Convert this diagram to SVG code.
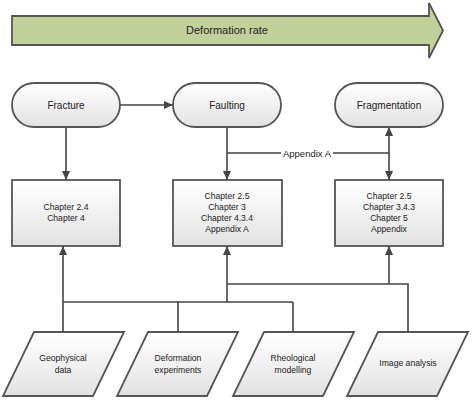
<svg xmlns="http://www.w3.org/2000/svg" width="474" height="402" viewBox="0 0 474 402">
<defs>
<linearGradient id="g" x1="0" y1="0" x2="0" y2="1">
<stop offset="0" stop-color="#ffffff"/>
<stop offset="1" stop-color="#e2e2e2"/>
</linearGradient>
<marker id="ah" markerWidth="9" markerHeight="8" refX="9" refY="4" orient="auto" markerUnits="userSpaceOnUse">
<path d="M0,0 L9,4 L0,8 Z" fill="#444"/>
</marker>
<style>
.n{fill:url(#g);stroke:#555;stroke-width:1.8}
.t{font-family:"Liberation Sans",Arial,sans-serif;font-size:10px;fill:#222;text-anchor:middle}
.s{font-family:"Liberation Sans",Arial,sans-serif;font-size:8.6px;fill:#222;text-anchor:middle}
.c{fill:none;stroke:#444;stroke-width:1.6}
</style>
</defs>
<rect width="474" height="402" fill="#fff"/>
<g id="rate">
<path d="M12,16 H429 V3 L443,30.5 L429,58 V45 H12 Z" fill="#c2d09a" stroke="#555" stroke-width="1.8"/>
<text x="227" y="34" class="t" style="font-size:11px">Deformation rate</text>
</g>
<g id="fracture"><rect class="n" x="12" y="83" width="108" height="44" rx="22"/><text class="t" x="66" y="109">Fracture</text></g>
<g id="faulting"><rect class="n" x="173" y="83" width="108" height="44" rx="22"/><text class="t" x="227" y="109">Faulting</text></g>
<g id="fragmentation"><rect class="n" x="335" y="83" width="108" height="44" rx="22"/><text class="t" x="389" y="109">Fragmentation</text></g>
<g id="box1"><rect class="n" x="12" y="180" width="108" height="66"/>
<text class="s" x="66" y="210">Chapter 2.4</text><text class="s" x="66" y="221">Chapter 4</text></g>
<g id="box2"><rect class="n" x="173" y="180" width="109" height="66"/>
<text class="s" x="227" y="199">Chapter 2.5</text><text class="s" x="227" y="210">Chapter 3</text><text class="s" x="227" y="221">Chapter 4.3.4</text><text class="s" x="227" y="232">Appendix A</text></g>
<g id="box3"><rect class="n" x="335" y="180" width="108" height="66"/>
<text class="s" x="389" y="199">Chapter 2.5</text><text class="s" x="389" y="210">Chapter 3.4.3</text><text class="s" x="389" y="221">Chapter 5</text><text class="s" x="389" y="232">Appendix</text></g>
<g id="geophysical"><polygon class="n" points="34,332 124,332 93,396 3,396"/>
<text class="s" x="63" y="361">Geophysical</text><text class="s" x="63" y="373">data</text></g>
<g id="experiments"><polygon class="n" points="148,332 238,332 207,396 117,396"/>
<text class="s" x="178" y="361">Deformation</text><text class="s" x="178" y="373">experiments</text></g>
<g id="rheological"><polygon class="n" points="264,332 354,332 323,396 233,396"/>
<text class="s" x="293" y="361">Rheological</text><text class="s" x="293" y="373">modelling</text></g>
<g id="image"><polygon class="n" points="378,332 468,332 437,396 347,396"/>
<text class="s" x="408" y="366">Image analysis</text></g>
<g id="connectors">
<path class="c" d="M120,105 H173" marker-end="url(#ah)"/>
<path class="c" d="M66,127 V180" marker-end="url(#ah)"/>
<path class="c" d="M227,127 V180" marker-end="url(#ah)"/>
<path class="c" d="M227,153 H389 V127" marker-end="url(#ah)"/>
<path class="c" d="M389,153 V180" marker-end="url(#ah)"/>
<path class="c" d="M63,332 V246" marker-end="url(#ah)"/>
<path class="c" d="M63,302 H293 M178,302 V332 M293,302 V332"/>
<path class="c" d="M227,302 V246" marker-end="url(#ah)"/>
<path class="c" d="M227,284 H408 V332"/>
<path class="c" d="M389,284 V246" marker-end="url(#ah)"/>
<rect x="281" y="147" width="52" height="12" fill="#fff"/>
<text class="s" x="307" y="156.5" style="font-size:9.5px">Appendix A</text>
</g>
</svg>
